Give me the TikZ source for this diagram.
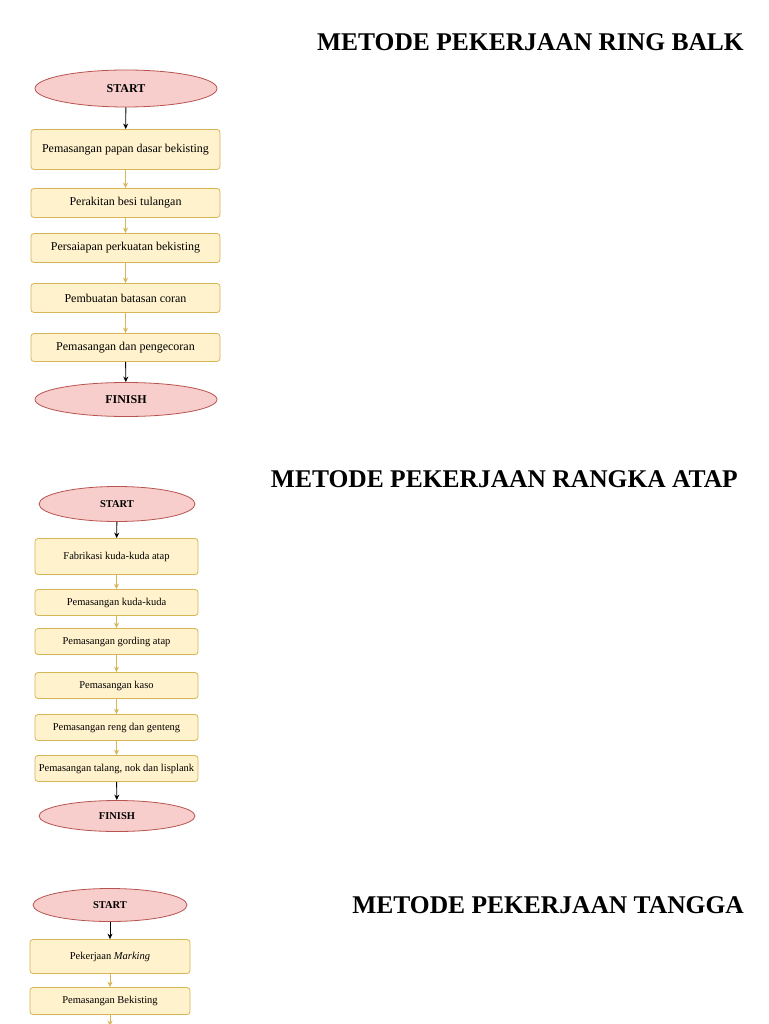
\documentclass[tikz,border=0pt]{standalone}
\usepackage{fontspec}
\setmainfont{Liberation Serif}
\usetikzlibrary{shapes.geometric,arrows.meta}
\definecolor{pinkfill}{HTML}{F8CECC}
\definecolor{pinkline}{HTML}{B85450}
\definecolor{boxfill}{HTML}{FFF2CC}
\definecolor{boxline}{HTML}{D6B656}
\tikzset{
  term/.style={ellipse,draw=pinkline,fill=pinkfill,line width=0.8pt,inner sep=0pt,font=\bfseries\fontsize{#1}{#1}\selectfont},
  stepbox/.style={rectangle,rounded corners=3pt,draw=boxline,fill=boxfill,line width=0.8pt,inner sep=0pt,font=\fontsize{#1}{#1}\selectfont},
  blk/.style={draw=black,line width=0.9pt,-{Stealth[length=5.5pt,width=5pt]}},
  gld/.style={draw=boxline,line width=0.9pt,-{Stealth[length=5.5pt,width=5pt]}},
  ttl/.style={anchor=east,font=\bfseries\fontsize{25.5}{25.5}\selectfont,inner sep=0pt}
}
\begin{document}
\begin{tikzpicture}[x=1pt,y=-1pt]
\useasboundingbox[fill=white] (0,0) rectangle (768,1024);
% ---------- Chart 1 ----------
\node[ttl] (t1) at (744,42) {METODE PEKERJAAN RING BALK};
\node[term=12, minimum width=182pt, minimum height=37pt] (s1) at (126,88.5) {START};
\node[stepbox=12, minimum width=189pt, minimum height=40pt] (a1) at (125.5,149.5) {Pemasangan papan dasar bekisting};
\node[stepbox=12, minimum width=189pt, minimum height=29pt] (a2) at (125.5,203) {Perakitan besi tulangan};
\node[stepbox=12, minimum width=189pt, minimum height=29pt] (a3) at (125.5,248) {Persaiapan perkuatan bekisting};
\node[stepbox=12, minimum width=189pt, minimum height=29pt] (a4) at (125.5,298) {Pembuatan batasan coran};
\node[stepbox=12, minimum width=189pt, minimum height=28pt] (a5) at (125.5,347.5) {Pemasangan dan pengecoran};
\node[term=12, minimum width=182pt, minimum height=34pt] (f1) at (126,399.5) {FINISH};
\draw[blk] (s1) -- (a1);
\draw[gld] (a1) -- (a2);
\draw[gld] (a2) -- (a3);
\draw[gld] (a3) -- (a4);
\draw[gld] (a4) -- (a5);
\draw[blk] (a5) -- (f1);
% ---------- Chart 2 ----------
\node[ttl] (t2) at (738,479) {METODE PEKERJAAN RANGKA ATAP};
\node[term=10.5, minimum width=156pt, minimum height=35pt] (s2) at (117,504) {START};
\node[stepbox=10.5, minimum width=163pt, minimum height=36pt] (b1) at (116.5,556.5) {Fabrikasi kuda-kuda atap};
\node[stepbox=10.5, minimum width=163pt, minimum height=26pt] (b2) at (116.5,602.5) {Pemasangan kuda-kuda};
\node[stepbox=10.5, minimum width=163pt, minimum height=26pt] (b3) at (116.5,641.5) {Pemasangan gording atap};
\node[stepbox=10.5, minimum width=163pt, minimum height=26pt] (b4) at (116.5,685.5) {Pemasangan kaso};
\node[stepbox=10.5, minimum width=163pt, minimum height=26pt] (b5) at (116.5,727.5) {Pemasangan reng dan genteng};
\node[stepbox=10.5, minimum width=163pt, minimum height=26pt] (b6) at (116.5,768.5) {Pemasangan talang, nok dan lisplank};
\node[term=10.5, minimum width=156pt, minimum height=31pt] (f2) at (117,816) {FINISH};
\draw[blk] (s2) -- (b1);
\draw[gld] (b1) -- (b2);
\draw[gld] (b2) -- (b3);
\draw[gld] (b3) -- (b4);
\draw[gld] (b4) -- (b5);
\draw[gld] (b5) -- (b6);
\draw[blk] (b6) -- (f2);
% ---------- Chart 3 ----------
\node[ttl] (t3) at (744,905) {METODE PEKERJAAN TANGGA};
\node[term=10.5, minimum width=154pt, minimum height=33pt] (s3) at (110,905) {START};
\node[stepbox=10.5, minimum width=160pt, minimum height=34pt] (c1) at (110,956.5) {Pekerjaan \textit{Marking}};
\node[stepbox=10.5, minimum width=160pt, minimum height=27pt] (c2) at (110,1001) {Pemasangan Bekisting};
\coordinate (c3) at (110,1026);
\draw[blk] (s3) -- (c1);
\draw[gld] (c1) -- (c2);
\draw[gld] (c2) -- (c3);
\end{tikzpicture}
\end{document}
